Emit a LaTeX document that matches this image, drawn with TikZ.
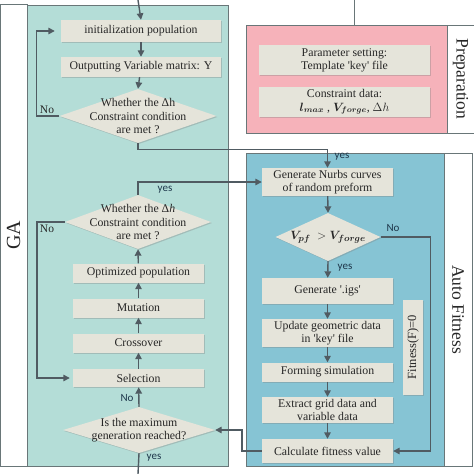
\documentclass[tikz,border=0pt]{standalone}
\usepackage{amsmath}
\usepackage{amssymb}
\usepackage{fontspec}
\setmainfont{Liberation Serif}
\newfontfamily\tagfont{Carlito}
\usetikzlibrary{shapes.geometric,arrows.meta,shadows}

\definecolor{gapanel}{RGB}{180,221,215}
\definecolor{fitpanel}{RGB}{134,196,212}
\definecolor{preppanel}{RGB}{246,178,186}
\definecolor{boxfill}{RGB}{229,228,218}
\definecolor{flowline}{RGB}{80,91,98}
\definecolor{panelline}{RGB}{105,118,120}
\definecolor{tagcolor}{RGB}{30,55,75}

\begin{document}
\begin{tikzpicture}[x=1pt,y=-1pt,
        font=\fontsize{11.8}{13.2}\selectfont,text=black!85,
        panel/.style={draw=panelline,line width=0.8pt},
        sidebox/.style={draw=panelline,line width=0.8pt,fill=white},
        procbox/.style={fill=boxfill,align=center,inner sep=1pt,
            drop shadow={shadow xshift=1pt,shadow yshift=-1pt,opacity=0.35}},
        decide/.style={diamond,fill=boxfill,inner sep=0pt,
            drop shadow={shadow xshift=1pt,shadow yshift=-1pt,opacity=0.35}},
        flow/.style={draw=flowline,line width=1.4pt,-{Triangle[length=6.5pt,width=6.5pt]}},
        plain/.style={draw=flowline,line width=1.4pt},
        tag/.style={font=\tagfont\fontsize{11}{12}\selectfont,text=tagcolor,inner sep=1pt},
        notag/.style={font=\fontsize{11.5}{12}\selectfont,inner sep=1pt}]

    \useasboundingbox (0,0) rectangle (474,474);

    % panels
    \node[sidebox,minimum width=27pt,minimum height=462pt] (gaside) at (13.5,235) {};
    \node[panel,fill=gapanel,minimum width=201pt,minimum height=461pt] (ga) at (127.5,235.5) {};
    \node[rotate=90,font=\fontsize{20}{22}\selectfont] at (gaside.center) {GA};

    \node[panel,fill=preppanel,minimum width=201pt,minimum height=108pt] (prep) at (346.5,79) {};
    \node[sidebox,minimum width=27pt,minimum height=108pt] (prepside) at (460.5,79) {};
    \node[rotate=-90,font=\fontsize{17.5}{20}\selectfont] at (prepside.center) {Preparation};

    \node[panel,fill=fitpanel,minimum width=198pt,minimum height=313pt] (fit) at (345,309.5) {};
    \node[sidebox,minimum width=28pt,minimum height=313pt] (fitside) at (458,309.5) {};
    \node[rotate=-90,font=\fontsize{17.5}{20}\selectfont] at (fitside.center) {Auto Fitness};

    % preparation
    \node[procbox,minimum width=171pt,minimum height=30pt] (param) at (344.5,60)
        {Parameter setting:\\Template \textquotesingle key\textquotesingle\ file};
    \node[procbox,minimum width=171pt,minimum height=30pt] (cdata) at (344.5,102)
        {Constraint data:\\$\boldsymbol{l_{max}}$ , $\boldsymbol{V_{forge}}$, $\Delta h$};

    % GA loop
    \node[procbox,minimum width=160pt,minimum height=22pt] (init) at (141,31) {initialization population};
    \node[procbox,minimum width=160pt,minimum height=20pt] (outvar) at (141,67) {Outputting Variable matrix: Y};
    \node[decide,minimum width=157pt,minimum height=54pt,
        label={[align=center]center:Whether the Δh\\Constraint condition\\are met ?}] (check1) at (138,116) {};
    \node[decide,minimum width=146pt,minimum height=54pt,
        label={[align=center]center:Whether the Δ\textit{h}\\Constraint condition\\are met ?}] (check2) at (138,222) {};
    \node[procbox,minimum width=131pt,minimum height=19pt] (optpop) at (138.5,273) {Optimized population};
    \node[procbox,minimum width=131pt,minimum height=19pt] (mutation) at (138.5,308) {Mutation};
    \node[procbox,minimum width=131pt,minimum height=19pt] (crossover) at (138.5,343) {Crossover};
    \node[procbox,minimum width=131pt,minimum height=18pt] (selection) at (138.5,378) {Selection};
    \node[decide,minimum width=152pt,minimum height=46pt,
        label={[align=center]center:Is the maximum\\generation reached?}] (maxgen) at (139,430) {};

    % fitness evaluation
    \node[procbox,minimum width=131pt,minimum height=28pt] (nurbs) at (327.5,182)
        {Generate Nurbs curves\\of random preform};
    \node[decide,minimum width=105pt,minimum height=48pt,
        label={center:\fontsize{12.5}{14}\selectfont$\boldsymbol{V_{pf}}\ >\boldsymbol{V_{forge}}$}] (volume) at (328,237) {};
    \node[procbox,minimum width=131pt,minimum height=26pt] (igs) at (327.5,291)
        {Generate \textquotesingle.igs\textquotesingle};
    \node[procbox,minimum width=131pt,minimum height=28pt] (update) at (327.5,333)
        {Update geometric data\\in \textquotesingle key\textquotesingle\ file};
    \node[procbox,minimum width=131pt,minimum height=19pt] (forming) at (327.5,372) {Forming simulation};
    \node[procbox,minimum width=131pt,minimum height=26pt] (extract) at (327.5,410)
        {Extract grid data and\\variable data};
    \node[procbox,minimum width=131pt,minimum height=24pt] (calc) at (327.5,451) {Calculate fitness value};
    \node[procbox,rotate=90,minimum width=95pt,minimum height=20pt,
        font=\fontsize{12.5}{14}\selectfont] (zerofit) at (413,347) {Fitness(F)=0};

    \coordinate (gain) at (138,0);
    \coordinate (prepin) at (354,0);
    \coordinate (gaout) at (138,474);

    % connectors
    \draw[flow] (gain) -- (init.north);
    \draw[draw=panelline,line width=0.8pt] (prepin) -- (prepin |- prep.north);
    \draw[flow] (init) -- (outvar);
    \draw[flow] (outvar) -- (check1.north);
    \draw[flow] (check1.west) -- ++(-23,0) |- ([xshift=-6pt]init.west);
    \node[notag] at (47,110) {No};
    \draw[flow] (check1.south) -- ++(0,6) -| (nurbs.north);
    \node[tag] at (342,157) {yes};
    \draw[flow] (check2.north) |- (nurbs.west);
    \node[tag] at (165,190) {yes};
    \draw[flow] (check2.west) -- ++(-28,0) |- ([xshift=-3pt]selection.west);
    \node[notag] at (47,229) {No};
    \draw[flow] (optpop) -- (check2.south);
    \draw[flow] (mutation) -- (optpop);
    \draw[flow] (crossover) -- (mutation);
    \draw[flow] (selection) -- (crossover);
    \draw[flow] (maxgen.north) -- (selection);
    \node[tag] at (127,398) {No};
    \draw[plain] (maxgen.south) -- (gaout);
    \node[tag] at (154,458) {yes};

    \draw[flow] (nurbs) -- (volume.north);
    \draw[flow] (volume.south) -- (igs);
    \node[tag] at (345,268) {yes};
    \draw[flow] (volume.east) -- ++(50,0) |- (calc.east);
    \node[tag] at (393,228) {No};
    \draw[flow] (igs) -- (update);
    \draw[flow] (update) -- (forming);
    \draw[flow] (forming) -- (extract);
    \draw[flow] (extract) -- (calc);
    \draw[flow] (calc.west) -- ++(-20,0) |- (maxgen.east);

\end{tikzpicture}
\end{document}
